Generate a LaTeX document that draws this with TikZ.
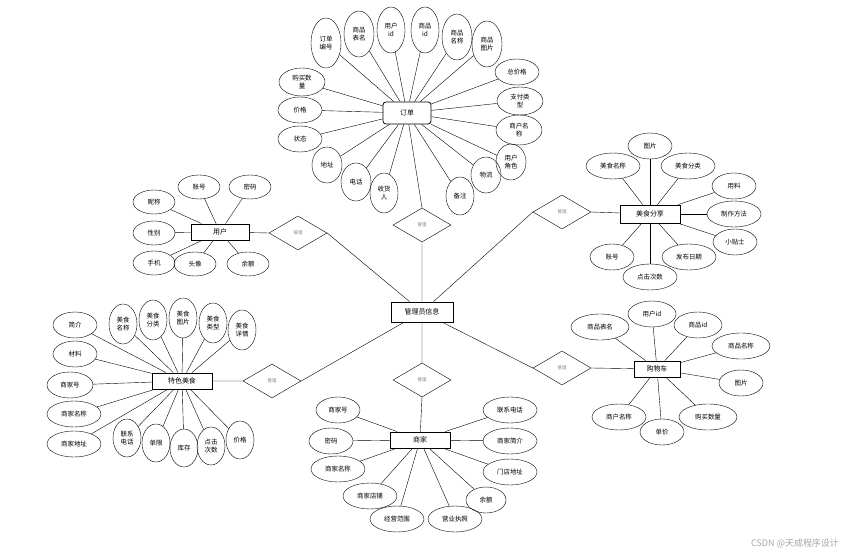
\documentclass[tikz,border=0pt]{standalone}
\usepackage{fontspec}
\setmainfont{Noto Sans CJK SC}
\usetikzlibrary{shapes.geometric, positioning}

\tikzset{
  attr/.style={ellipse, draw, thin, inner sep=0pt, align=center, font=\fontsize{6.5}{7.5}\selectfont},
  ent/.style={rectangle, draw, thick, inner sep=0pt, font=\fontsize{7}{8}\selectfont},
  rel/.style={diamond, draw, thin, inner sep=0pt, aspect=1.7, minimum width=58bp, minimum height=34bp, text=gray, font=\fontsize{4.5}{5}\selectfont},
  link/.style={thin}
}

\begin{document}
\begin{tikzpicture}[x=1bp, y=-1bp]
\useasboundingbox (0,0) rectangle (865,559);

% entities
\node[ent, rounded corners=3pt, minimum width=48bp, minimum height=22bp] (ord) at (407,113) {订单};
\node[ent, minimum width=62bp, minimum height=20bp] (admin) at (422,312) {管理员信息};
\node[ent, minimum width=58bp, minimum height=16bp] (user) at (220,232) {用户};
\node[ent, minimum width=60bp, minimum height=18bp] (share) at (650,214) {美食分享};
\node[ent, minimum width=60bp, minimum height=16bp] (food) at (182,381) {特色美食};
\node[ent, minimum width=60bp, minimum height=16bp] (shop) at (420,440) {商家};
\node[ent, minimum width=46bp, minimum height=16bp] (cart) at (657,369) {购物车};

% relations
\node[rel] (r1) at (422,225) {管理};
\node[rel] (r2) at (298,233) {管理};
\node[rel] (r3) at (562,212) {管理};
\node[rel] (r4) at (272,381) {管理};
\node[rel] (r5) at (422,380) {管理};
\node[rel] (r6) at (562,368) {管理};

\draw[link] (ord) -- (r1.north) (r1.south) -- (admin);
\draw[link] (admin) -- (r2.east) (r2.west) -- (user);
\draw[link] (admin) -- (r3.west) (r3.east) -- (share);
\draw[link] (admin) -- (r4.east) (r4.west) -- (food);
\draw[link] (admin) -- (r5.north) (r5.south) -- (shop);
\draw[link] (admin) -- (r6.west) (r6.east) -- (cart);

% attributes: x/y/width/height/text/entity
\foreach \x/\y/\w/\h/\t/\e [count=\i] in {
  326/43/30/50/{订单\\编号}/ord, 359/34/30/46/{商品\\表名}/ord, 391/30/28/46/{用户\\id}/ord,
  425/30/28/46/{商品\\id}/ord, 457/37/30/46/{商品\\名称}/ord, 487/44/30/46/{商品\\图片}/ord,
  302/82/46/28/{购买数\\量}/ord, 300/110/44/26/价格/ord, 300/139/44/26/状态/ord,
  327/165/30/36/地址/ord, 356/182/30/38/电话/ord, 384/193/28/40/{收货\\人}/ord,
  460/196/28/38/备注/ord, 486/175/30/36/物流/ord, 511/162/30/36/{用户\\角色}/ord,
  517/72/44/26/总价格/ord, 520/101/46/28/{支付类\\型}/ord, 519/130/46/30/{商户名\\称}/ord,
  199/187/42/24/账号/user, 250/187/42/24/密码/user, 154/202/42/24/昵称/user,
  154/233/42/24/性别/user, 154/263/42/24/手机/user, 195/264/42/24/头像/user,
  248/264/42/24/余额/user,
  650/146/44/26/图片/share, 613/166/54/26/美食名称/share, 688/166/54/26/美食分类/share,
  734/186/44/26/用料/share, 734/214/54/26/制作方法/share, 735/242/44/26/小贴士/share,
  612/257/44/26/账号/share, 689/257/54/26/发布日期/share, 650/277/54/26/点击次数/share,
  75/325/44/26/简介/food, 75/354/44/26/材料/food, 70/385/46/26/商家号/food,
  74/414/54/26/商家名称/food, 74/444/54/26/商家地址/food,
  123/324/28/40/{美食\\名称}/food, 153/320/28/40/{美食\\分类}/food, 183/318/28/40/{美食\\图片}/food,
  213/323/28/40/{美食\\类型}/food, 242/330/28/40/{美食\\详情}/food,
  127/438/28/38/{联系\\电话}/food, 156/443/28/38/单限/food, 184/448/28/38/库存/food,
  211/446/28/38/{点击\\次数}/food, 240/440/28/38/价格/food,
  338/410/44/26/商家号/shop, 331/441/44/26/密码/shop, 338/469/54/26/商家名称/shop,
  370/496/54/26/商家店铺/shop, 397/519/54/26/经营范围/shop, 455/519/54/26/营业执照/shop,
  486/500/40/26/余额/shop, 510/410/54/26/联系电话/shop, 510/441/54/26/商家简介/shop,
  510/472/54/26/门店地址/shop,
  600/327/58/26/商品表名/cart, 652/314/48/26/用户id/cart, 698/325/48/26/商品id/cart,
  741/346/58/26/商品名称/cart, 741/383/44/26/图片/cart, 619/417/54/26/商户名称/cart,
  662/432/44/26/单价/cart, 708/417/58/26/购买数量/cart}
{
  \node[attr, minimum width=\w bp, minimum height=\h bp] (a\i) at (\x,\y) {\t};
  \draw[link] (a\i) -- (\e);
}

\node[text=gray!70, font=\fontsize{9}{10}\selectfont] (mark) at (795,543) {CSDN @天成程序设计};
\end{tikzpicture}
\end{document}
